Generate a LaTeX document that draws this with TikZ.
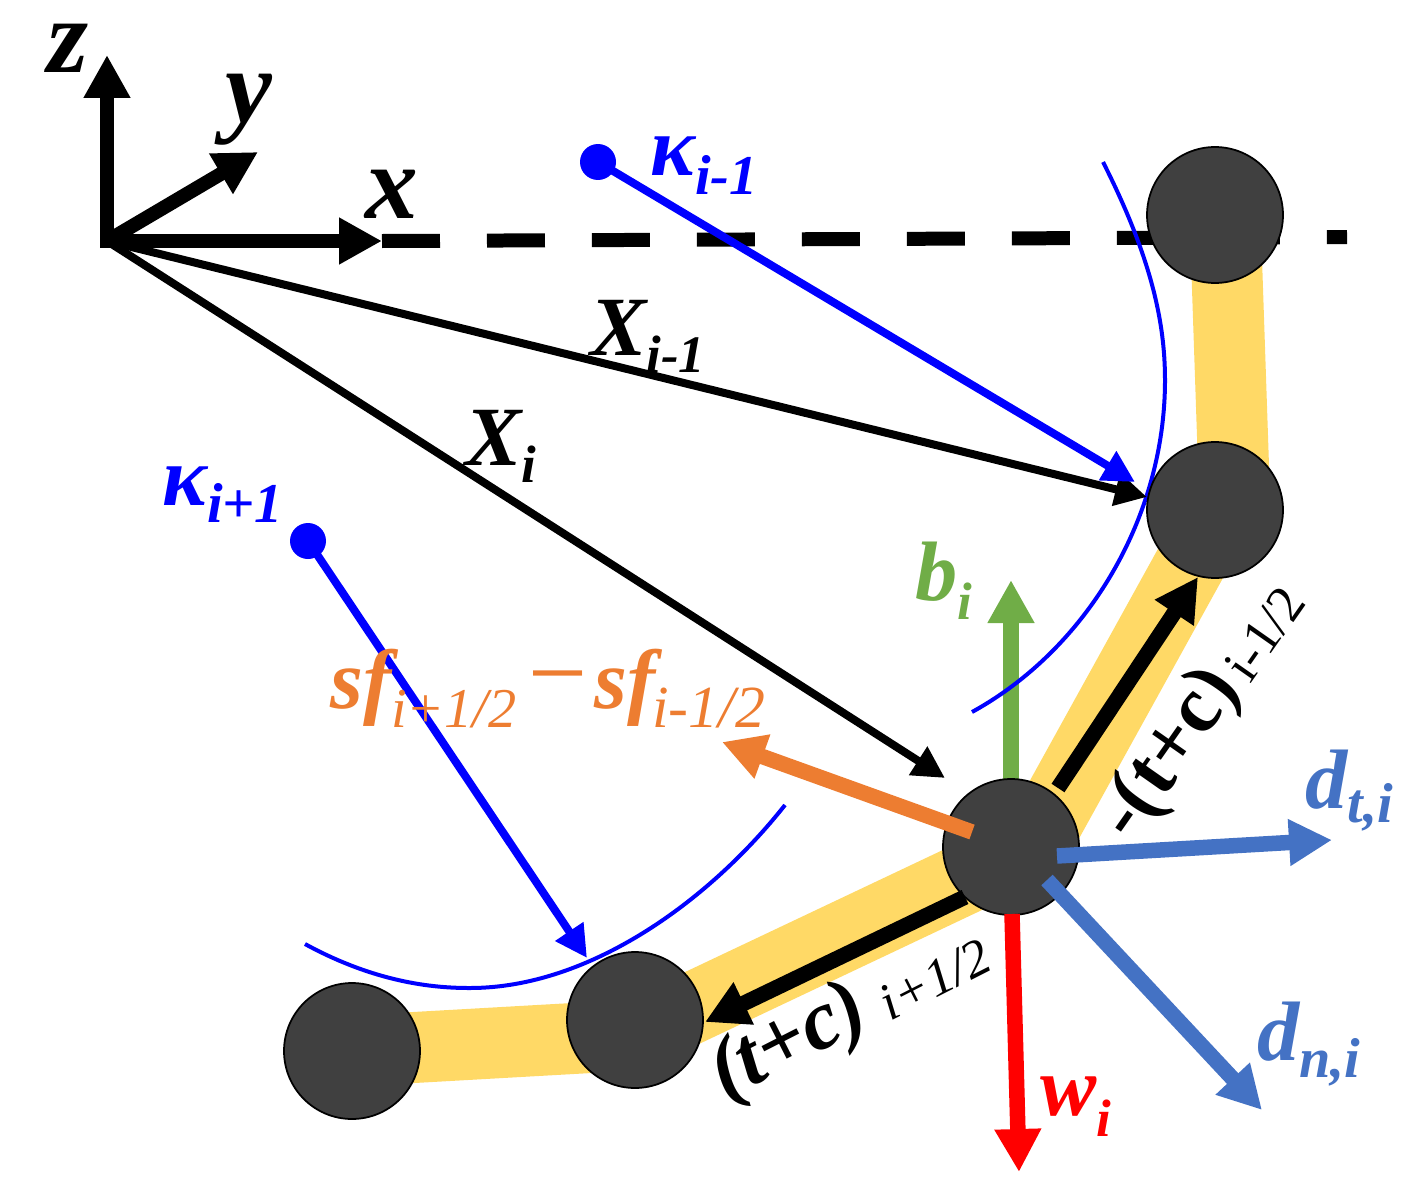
\documentclass[tikz,border=0pt]{standalone}
\usepackage{fontspec}
\setmainfont{Liberation Serif}
\usetikzlibrary{arrows.meta}
\newcommand{\lowsub}[3]{\raisebox{-#1pt}{\fontsize{#2}{#2}\selectfont #3}}
\definecolor{beadfill}{HTML}{404040}
\definecolor{bandyellow}{HTML}{FFD966}
\definecolor{forcegreen}{HTML}{70AD47}
\definecolor{forceorange}{HTML}{ED7D31}
\definecolor{forceblue}{HTML}{4472C4}
\tikzset{
	bead/.style={circle,draw=black,line width=1pt,fill=beadfill,minimum size=2.72cm,inner sep=0pt},
	band/.style={bandyellow,line width=1.42cm},
	kappadot/.style={circle,fill=blue,minimum size=0.72cm,inner sep=0pt},
	axisarrow/.style={line width=0.28cm,-{Triangle[length=0.86cm,width=0.88cm]}},
	thinarrow/.style={line width=0.16cm,-{Triangle[length=0.64cm,width=0.64cm]}},
	forcearrow/.style={line width=0.31cm,-{Triangle[length=0.86cm,width=0.88cm]}},
	lab/.style={anchor=base west,inner sep=0pt,font=\bfseries\itshape\fontsize{48}{48}\selectfont},
	axislab/.style={lab,font=\bfseries\itshape\fontsize{60}{60}\selectfont},
}
\begin{document}
\begin{tikzpicture}[x=0.02cm,y=-0.02cm]
	\useasboundingbox (0,0) rectangle (1416,1190);

	\coordinate (origin) at (107,241);
	\coordinate (xtip) at (382,241);
	\coordinate (ytip) at (258,152);
	\coordinate (ztip) at (107,55);
	\coordinate (dashend) at (1347,237);

	\coordinate (centerA) at (1215,215);
	\coordinate (centerB) at (1215,510);
	\coordinate (centerC) at (1011,847);
	\coordinate (centerD) at (635,1020);
	\coordinate (centerE) at (352,1051);

	\draw[line width=0.28cm,dash pattern=on 1.16cm off 0.94cm] (xtip) -- (dashend);

	\draw[band] ([xshift=0.2cm]centerA) -- ([xshift=0.4cm]centerB);
	\draw[band] ([xshift=0.1cm]centerB) -- ([xshift=0.4cm,yshift=-0.1cm]centerC);
	\draw[band] ([yshift=-0.2cm]centerC) -- ([yshift=-0.3cm]centerD);
	\draw[band] ([yshift=-0.3cm]centerD) -- (centerE);

	\coordinate (greentip) at (1011,580);
	\draw[forcearrow,forcegreen] (centerC) -- (greentip);

	\draw[blue,line width=0.08cm] (1103,162) .. controls (1150,255) and (1165,320) .. (1165,380) .. controls (1165,520) and (1085,650) .. (972,712);

	\node[bead] (beadA) at (centerA) {};
	\node[bead] (beadB) at (centerB) {};
	\node[bead] (beadC) at (centerC) {};
	\node[bead] (beadD) at (centerD) {};
	\node[bead] (beadE) at (centerE) {};

	\draw[blue,line width=0.08cm] (305,944) .. controls (380,985) and (440,988) .. (470,988) .. controls (590,988) and (710,900) .. (785,805);

	\draw[axisarrow,line cap=rect] (origin) -- (ztip);
	\draw[axisarrow] (origin) -- (ytip);
	\draw[axisarrow,line cap=rect] (origin) -- (xtip);

	\coordinate (xprevtip) at (1147,497);
	\coordinate (xitip) at (945,778);
	\draw[thinarrow] (origin) -- (xprevtip);
	\draw[thinarrow] (origin) -- (xitip);

	\node[kappadot] (kappaprev) at (598,162) {};
	\node[kappadot] (kappanext) at (308,541) {};
	\coordinate (kprevtip) at (1135,482);
	\coordinate (knexttip) at (587,958);
	\draw[thinarrow,blue] (kappaprev.center) -- (kprevtip);
	\draw[thinarrow,blue] (kappanext.center) -- (knexttip);

	\coordinate (orangestart) at (972,832);
	\coordinate (orangetip) at (722,742);
	\coordinate (dtstart) at (1057,856);
	\coordinate (dttip) at (1332,840);
	\coordinate (dnstart) at (1047,880);
	\coordinate (dntip) at (1262,1110);
	\coordinate (wstart) at (1012,914);
	\coordinate (wtip) at (1019,1172);
	\coordinate (upstart) at (1058,788);
	\coordinate (uptip) at (1198,577);
	\coordinate (downstart) at (965,897);
	\coordinate (downtip) at (705,1022);
	\draw[forcearrow,forceorange] (orangestart) -- (orangetip);
	\draw[forcearrow,forceblue] (dtstart) -- (dttip);
	\draw[forcearrow,forceblue] (dnstart) -- (dntip);
	\draw[forcearrow,red] (wstart) -- (wtip);
	\draw[forcearrow,black] (upstart) -- (uptip);
	\draw[forcearrow,black] (downstart) -- (downtip);

	\node[axislab] (zlab) at (47,72) {z};
	\node[axislab] (ylab) at (225,122) {y};
	\node[axislab] (xlab) at (365,218) {x};

	\node[lab] (xprevlab) at (590,355) {X\lowsub{10}{30}{i-1}};
	\node[lab] (xilab) at (465,465) {X\lowsub{10}{30}{i}};
	\node[lab,blue] (kprevlab) at (650,175) {κ\lowsub{11}{32}{i-1}};
	\node[lab,blue] (knextlab) at (162,505) {κ\lowsub{10}{32}{i+1}};
	\node[lab,forcegreen] (blab) at (915,600) {b\lowsub{11}{30}{i}};
	\node[lab,forceorange] (sflab) at (330,708) {sf\lowsub{11}{32}{\mdseries i+1/2}\hspace{3pt}{\mdseries\fontsize{60}{60}\selectfont −}\hspace{1pt}sf\hspace{-2pt}\lowsub{11}{34}{\mdseries i-1/2}};
	\node[lab,forceblue] (dtlab) at (1305,808) {d\lowsub{8}{32}{t,i}};
	\node[lab,forceblue] (dnlab) at (1257,1060) {d\lowsub{10}{32}{n,i}};
	\node[lab,red] (wlab) at (1040,1115) {w\lowsub{12}{30}{i}};
	\node[lab,rotate=55,font=\bfseries\fontsize{46}{46}\selectfont] (uplab) at (1132,844) {-(t+c)\lowsub{3}{30}{\mdseries\,i-1/2}};
	\node[lab,rotate=27,font=\bfseries\itshape\fontsize{48}{48}\selectfont] (downlab) at (725,1100) {(t+c)\lowsub{3}{30}{\mdseries\,\,i+1/2}};
\end{tikzpicture}
\end{document}
